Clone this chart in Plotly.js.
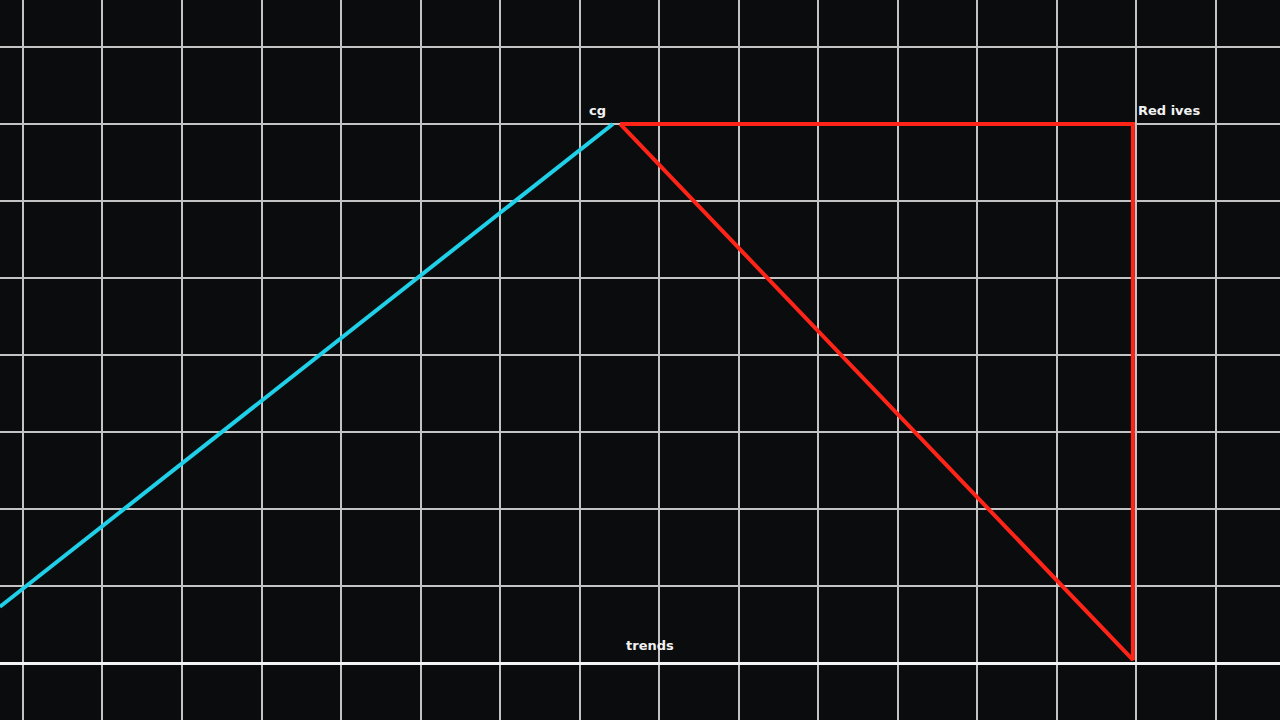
<!DOCTYPE html>
<html>
<head>
<meta charset="utf-8">
<script src="https://cdn.plot.ly/plotly-3.0.1.min.js"></script>
<style>html,body{margin:0;padding:0;background:#0a0c0e;}#chart{width:1280px;height:720px;}</style>
</head>
<body>
<div id="chart"></div>
<script>
const riseX = [-0.29, 7.42];
const riseY = [0.73, 7.0];
const triX = [7.51, 13.96, 13.96, 7.51];
const triY = [7.0, 7.0, 0.04, 7.0];
const labels = ["cg", "Red ives", "trends"];
const labelX = [7.22, 14.42, 7.89];
const labelY = [7.17, 7.17, 0.23];

const traces = [
  {x: riseX, y: riseY, mode: "lines", line: {color: "#1fd0e8", width: 4}, hoverinfo: "skip"},
  {x: triX, y: triY, mode: "lines", line: {color: "#ff2418", width: 4}, hoverinfo: "skip"}
];

const annotations = labels.map((t, i) => ({
  x: labelX[i], y: labelY[i], text: t, showarrow: false,
  font: {family: "DejaVu Sans", size: 13, color: "#f2f2f2", weight: "bold"}
}));

const layout = {
  width: 1280, height: 720,
  margin: {l: 0, r: 0, t: 0, b: 0},
  paper_bgcolor: "#0a0c0e",
  plot_bgcolor: "#0a0c0e",
  showlegend: false,
  xaxis: {range: [-0.289, 15.81], tick0: 0, dtick: 1, showticklabels: false, ticks: "",
          showgrid: true, gridcolor: "#c4c4c4", gridwidth: 2, zeroline: false, showline: false, fixedrange: true},
  yaxis: {range: [-0.74, 8.61], tick0: 0, dtick: 1, showticklabels: false, ticks: "",
          showgrid: true, gridcolor: "#c4c4c4", gridwidth: 2,
          zeroline: true, zerolinecolor: "#f4f4f4", zerolinewidth: 3, showline: false, fixedrange: true},
  annotations: annotations
};

Plotly.newPlot("chart", traces, layout, {displayModeBar: false, staticPlot: true});
</script>
</body>
</html>
